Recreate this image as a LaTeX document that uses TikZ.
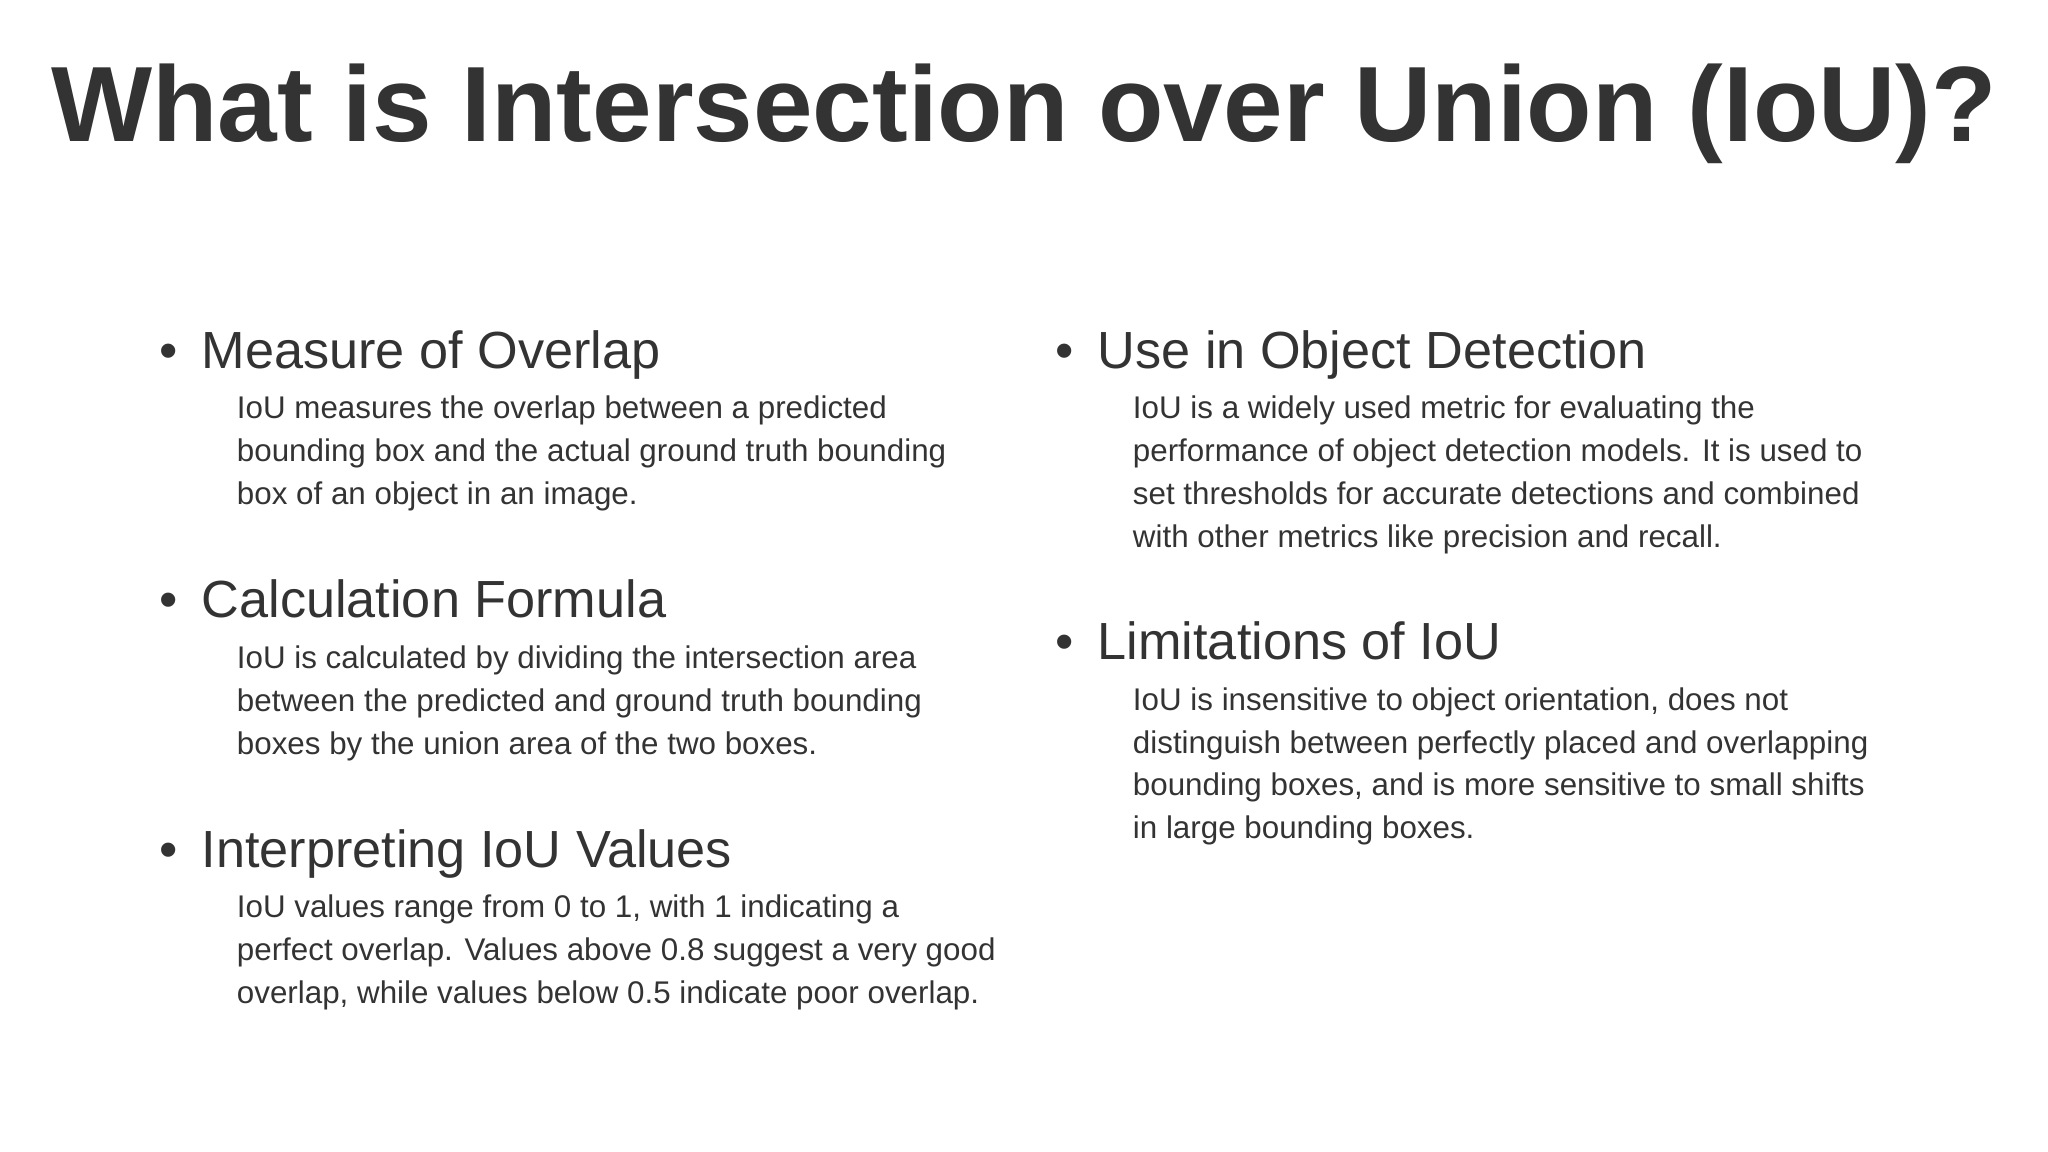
\documentclass[tikz,border=0pt]{standalone}
\usepackage{fontspec}
\setmainfont{Liberation Sans}
\definecolor{ink}{HTML}{333333}
\begin{document}
\begin{tikzpicture}[x=0.5pt,y=-0.5pt,
  title/.style={anchor=base, inner sep=0, text=ink, font=\fontsize{41}{48}\selectfont\bfseries},
  head/.style={anchor=base west, inner sep=0, text=ink, font=\fontsize{20}{24}\selectfont},
  dot/.style={anchor=base west, inner sep=0, text=ink, font=\fontsize{20}{24}\selectfont},
  body/.style={anchor=north west, inner sep=0, text=ink, align=left, font=\fontsize{12}{16.4}\selectfont}]
\useasboundingbox (0,0) rectangle (1568,882);
\node[title] (t) at (784,108) {What is Intersection over Union (IoU)?};
% left column
\node[dot] (b1) at (122,282) {•};
\node[head] (h1) at (154,282) {Measure of Overlap};
\node[body] (p1) at (181,303) {IoU measures the overlap between a predicted\\bounding box and the actual ground truth bounding\\box of an object in an image.};
\node[dot] (b2) at (122,473) {•};
\node[head] (h2) at (154,473) {Calculation Formula};
\node[body] (p2) at (181,494) {IoU is calculated by dividing the intersection area\\between the predicted and ground truth bounding\\boxes by the union area of the two boxes.};
\node[dot] (b3) at (122,664) {•};
\node[head] (h3) at (154,664) {Interpreting IoU Values};
\node[body] (p3) at (181,685) {IoU values range from 0 to 1, with 1 indicating a\\perfect overlap. Values above 0.8 suggest a very good\\overlap, while values below 0.5 indicate poor overlap.};
% right column
\node[dot] (b4) at (808,282) {•};
\node[head] (h4) at (840,282) {Use in Object Detection};
\node[body] (p4) at (867,303) {IoU is a widely used metric for evaluating the\\performance of object detection models. It is used to\\set thresholds for accurate detections and combined\\with other metrics like precision and recall.};
\node[dot] (b5) at (808,505) {•};
\node[head] (h5) at (840,505) {Limitations of IoU};
\node[body] (p5) at (867,526) {IoU is insensitive to object orientation, does not\\distinguish between perfectly placed and overlapping\\bounding boxes, and is more sensitive to small shifts\\in large bounding boxes.};
\end{tikzpicture}
\end{document}
